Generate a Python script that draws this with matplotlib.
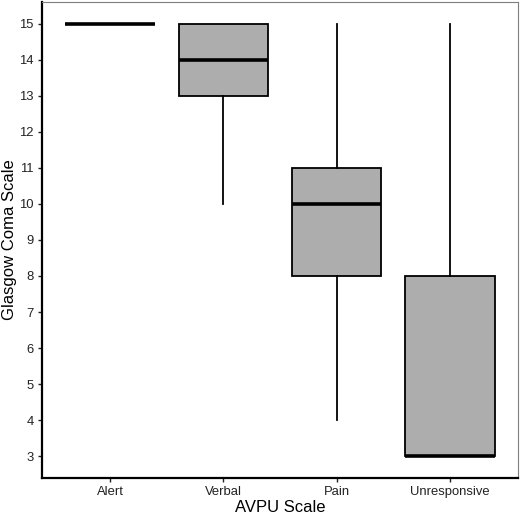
import matplotlib
matplotlib.use("Agg")
import matplotlib.pyplot as plt

categories = ["Alert", "Verbal", "Pain", "Unresponsive"]
q1 = [15, 13, 8, 3]
med = [15, 14, 10, 3]
q3 = [15, 15, 11, 8]
whislo = [15, 10, 4, 3]
whishi = [15, 15, 15, 15]

plt.rcParams["font.family"] = ["Liberation Sans", "DejaVu Sans"]

fig = plt.figure(figsize=(5.2, 5.16), dpi=100)
ax = fig.add_axes([0.081, 0.074, 0.915, 0.922])

stats = []
for i, c in enumerate(categories):
    stats.append({"label": c, "q1": q1[i], "med": med[i], "q3": q3[i],
                  "whislo": whislo[i], "whishi": whishi[i], "fliers": []})

ax.bxp(stats, positions=range(1, len(categories) + 1), widths=0.79,
       patch_artist=True, showcaps=False,
       boxprops=dict(facecolor="#adadad", edgecolor="black", linewidth=1.3),
       medianprops=dict(color="black", linewidth=2.6, solid_capstyle="butt"),
       whiskerprops=dict(color="black", linewidth=1.3))

ax.set_xlim(0.4, 4.6)
ax.set_ylim(2.4, 15.6)
ax.set_yticks(range(3, 16))
ax.set_xticks(range(1, len(categories) + 1))
ax.set_xticklabels(categories)

ax.tick_params(axis="both", labelsize=9.4, colors="#222222", length=3, width=1, pad=3)
ax.set_xlabel("AVPU Scale", fontsize=12, labelpad=1)
ax.set_ylabel("Glasgow Coma Scale", fontsize=12)
ax.yaxis.set_label_coords(-0.053, 0.5)

for s in ["left", "bottom"]:
    ax.spines[s].set_linewidth(1.6)
    ax.spines[s].set_color("black")
for s in ["top", "right"]:
    ax.spines[s].set_linewidth(0.8)
    ax.spines[s].set_color("#7f7f7f")

plt.savefig("out.png", dpi=100)
plt.close()
